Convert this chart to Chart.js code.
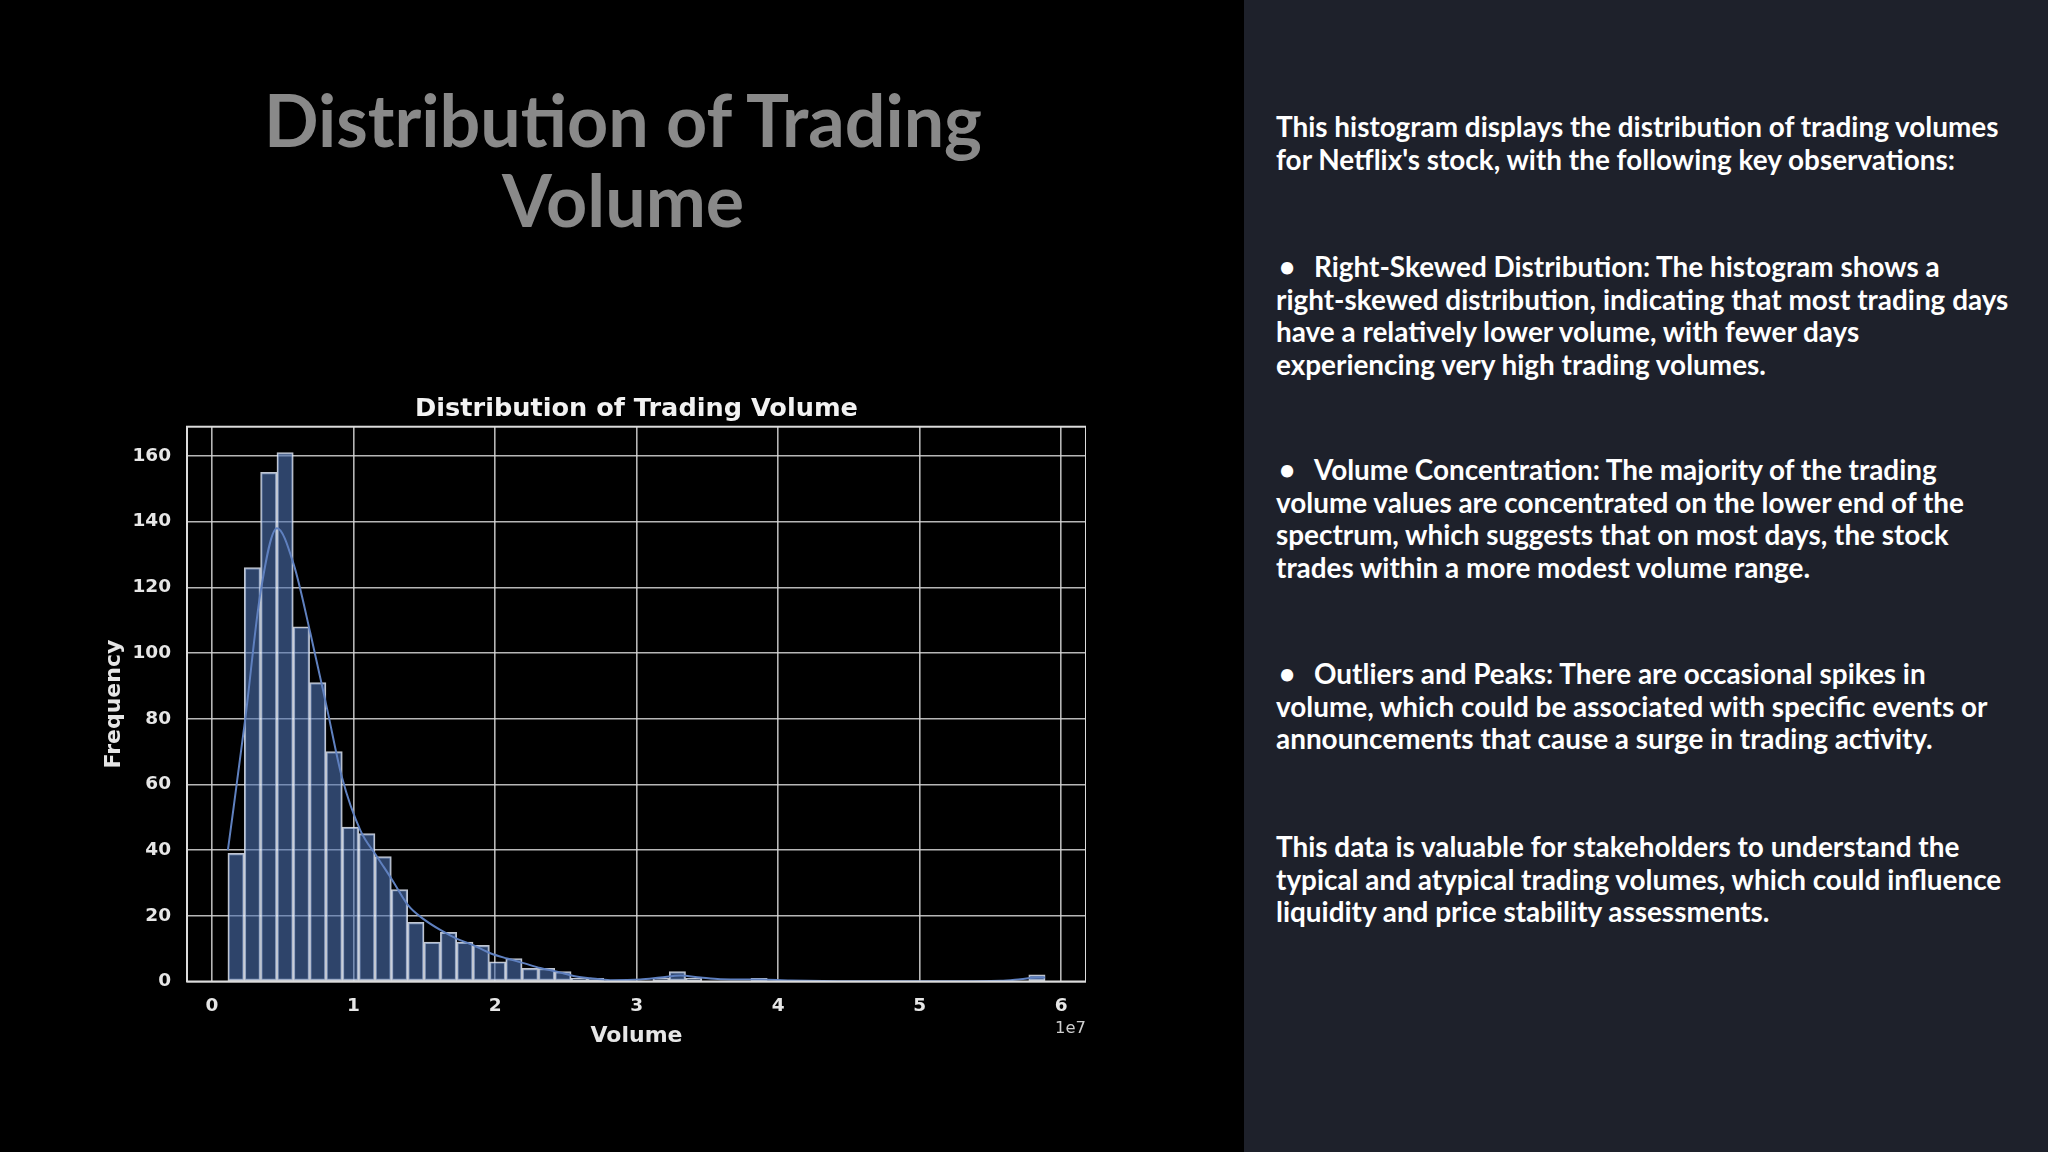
<!DOCTYPE html>
<html>
<head>
<meta charset="utf-8">
<script src="https://cdn.jsdelivr.net/npm/chart.js@4.4.1/dist/chart.umd.min.js"></script>
<style>
html,body{margin:0;padding:0;background:#000;width:2048px;height:1152px;overflow:hidden;}
#side{position:absolute;left:1244px;top:0;width:804px;height:1152px;background:#1e212b;}
.heading{position:absolute;left:123px;width:1000px;top:79px;text-align:center;font-family:Lato,sans-serif;font-weight:700;font-size:71.8px;line-height:80px;color:#898989;}
.p{position:absolute;left:1276px;font-family:Lato,sans-serif;font-weight:700;font-size:27.9px;line-height:32.6px;color:#fff;white-space:nowrap;}
.b{display:inline-block;width:38px;padding-left:3px;box-sizing:border-box;}
#wrap{position:absolute;left:90px;top:388px;}
</style>
</head>
<body>
<div id="side"></div>
<div class="heading">Distribution of Trading<br>Volume</div>

<div class="p" style="top:110px">This histogram displays the distribution of trading volumes<br>for Netflix's stock, with the following key observations:</div>
<div class="p" style="top:250px"><span class="b">•</span>Right-Skewed Distribution: The histogram shows a<br>right-skewed distribution, indicating that most trading days<br>have a relatively lower volume, with fewer days<br>experiencing very high trading volumes.</div>
<div class="p" style="top:453px"><span class="b">•</span>Volume Concentration: The majority of the trading<br>volume values are concentrated on the lower end of the<br>spectrum, which suggests that on most days, the stock<br>trades within a more modest volume range.</div>
<div class="p" style="top:657px"><span class="b">•</span>Outliers and Peaks: There are occasional spikes in<br>volume, which could be associated with specific events or<br>announcements that cause a surge in trading activity.</div>
<div class="p" style="top:830px">This data is valuable for stakeholders to understand the<br>typical and atypical trading volumes, which could influence<br>liquidity and price stability assessments.</div>

<div id="wrap"><canvas id="volChart" width="996" height="661"></canvas></div>

<script>
// volume in units of 1e7 shares
const binStart = 0.112;
const binWidth = 0.1155;
const binCounts = [39,126,155,161,108,91,70,47,45,38,
28,18,12,15,12,11,6,7,4,4,
3,1,1,0,0,0,1,3,1,0,
0,0,1,0,0,0,0,0,0,0,
0,0,0,0,0,0,0,0,0,2];

const kdeX = [0.112,0.235,0.341,0.459,0.577,0.695,0.813,0.919,1.048,1.166,1.272,1.389,1.495,1.613,1.731,1.849,1.967,2.085,2.202,2.320,2.438,2.555,2.673,2.815,3.027,3.168,3.310,3.451,3.592,3.875,4.087,4.511,5.218,5.571,5.713,5.833,5.887];
const kdeY = [40,80,118,138,127,106,83,62,46,38,31,23,19,15.7,13,11,8.6,7,5.6,4.1,3,1.7,1,0.4,0.6,1.2,1.8,1.2,0.7,0.6,0.3,0.05,0.05,0.2,0.7,1.2,1.2];

const xTicks = [0,1,2,3,4,5,6];
const yTicks = [0,20,40,60,80,100,120,140,160];

let bars = binCounts.map((c,i)=>({x: binStart + binWidth*(i+0.5), y: c}));
let kde = kdeX.map((x,i)=>({x: x, y: kdeY[i]}));

const frame = {
id:"frame",
afterDatasetsDraw(chart){
const {ctx, chartArea:a} = chart;
ctx.save();
ctx.strokeStyle="#dcdcdc";
ctx.lineWidth=2;
ctx.strokeRect(a.left,a.top,a.right-a.left,a.bottom-a.top);
ctx.fillStyle="#cfcfcf";
ctx.font='16.4px "DejaVu Sans"';
ctx.textAlign="right";
ctx.textBaseline="middle";
ctx.fillText("1e7",a.right,a.bottom+47.5);
ctx.restore();
}
};

const tickFont = {family:"DejaVu Sans", weight:"bold", size:18.5};
const labelFont = {family:"DejaVu Sans", weight:"bold", size:22, lineHeight:1.2};

new Chart(document.getElementById("volChart"),{
type:"bar",
data:{
datasets:[
{
type:"line",
data:kde,
borderColor:"#5f80bf",
borderWidth:2,
pointRadius:0,
fill:false,
cubicInterpolationMode:"monotone",
order:0
},
{
data:bars,
backgroundColor:"rgba(76,114,176,0.6)",
borderColor:"rgba(225,232,245,0.85)",
borderWidth:1.5,
borderSkipped:false,
barPercentage:1,
categoryPercentage:1,
order:1
}
]
},
options:{
responsive:false,
animation:false,
layout:{padding:0},
plugins:{
legend:{display:false},
tooltip:{enabled:false},
title:{
display:true,
text:"Distribution of Trading Volume",
color:"#f2f2f2",
fullSize:false,
font:{family:"DejaVu Sans", weight:"bold", size:25.6, lineHeight:1.2},
padding:{top:5.6,bottom:2.4}
}
},
scales:{
x:{
type:"linear",
min:-0.177,
max:6.176,
offset:false,
afterFit:s=>{s.height=67.5;s.paddingLeft=0;s.paddingRight=0;},
afterBuildTicks:s=>{s.ticks=xTicks.map(v=>({value:v}));},
ticks:{color:"#e6e6e6",font:tickFont,padding:13.6,callback:v=>String(v)},
grid:{color:"rgba(215,215,215,0.85)",lineWidth:1.6,drawTicks:false,offset:false},
border:{display:false},
title:{display:true,text:"Volume",color:"#e6e6e6",font:labelFont,padding:{top:0,bottom:0}}
},
y:{
min:0,
max:168.9,
afterFit:s=>{s.width=97;s.paddingTop=0;s.paddingBottom=0;},
afterBuildTicks:s=>{s.ticks=yTicks.map(v=>({value:v}));},
ticks:{color:"#e6e6e6",font:tickFont,padding:16},
grid:{color:"rgba(215,215,215,0.85)",lineWidth:1.6,drawTicks:false},
border:{display:false},
title:{display:true,text:"Frequency",color:"#e6e6e6",font:labelFont,padding:{top:10.8,bottom:0}}
}
}
},
plugins:[frame]
});
</script>
</body>
</html>
